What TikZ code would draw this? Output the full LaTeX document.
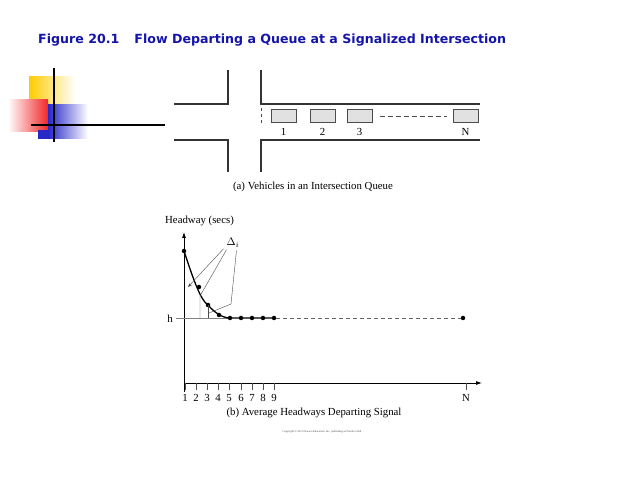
\documentclass[tikz,border=0pt]{standalone}
\usepackage{fontspec}
\setmainfont{Liberation Serif}
\newfontfamily\titlefont{DejaVu Sans}
\usetikzlibrary{arrows.meta}
\definecolor{ttl}{RGB}{20,20,170}
\definecolor{carfill}{RGB}{225,225,225}
\definecolor{lgold}{RGB}{255,204,0}
\definecolor{lblue}{RGB}{40,40,200}
\definecolor{lred}{RGB}{240,40,40}
\begin{document}
\begin{tikzpicture}[x=1pt,y=-1pt,
  road/.style={line width=1.1pt,black!80},
  car/.style={draw=black!70,fill=carfill,line width=0.5pt},
  lab/.style={font=\fontsize{10.8}{12}\selectfont,inner sep=0pt},
  dot/.style={circle,fill=black,inner sep=0pt,minimum size=4.5pt},
  thin/.style={line width=0.4pt,black!70}]
\fill[white] (0,0) rectangle (638,478);
\useasboundingbox (0,0) rectangle (638,478);
% title
\node[anchor=west,text=ttl,font=\titlefont\bfseries\fontsize{12.6}{14}\selectfont,inner sep=0pt] (title) at (38,40) {Figure 20.1\hspace{1.2em}Flow Departing a Queue at a Signalized Intersection};
% logo
\shade[left color=lgold,right color=white] (29,77) rectangle (75,113);
\shade[left color=white,right color=lred] (8,100) rectangle (48,132);
\shade[left color=lblue,right color=white] (48,105) rectangle (88,139);
\fill[lblue] (38,130) rectangle (50,139);
\draw[line width=1.3pt] (54,68) -- (54,142);
\draw[line width=1.3pt] (31,125) -- (165,125);
% road
\draw[road] (174,104) -- (228,104) -- (228,70);
\draw[road] (261,70) -- (261,104) -- (480,104);
\draw[road] (174,140) -- (228,140) -- (228,172);
\draw[road] (261,172) -- (261,140) -- (480,140);
\draw[thin,dashed] (261,108) -- (261,126);
\foreach \x/\l [count=\i] in {271/1,310/2,347/3,453/N}{
  \node[car,minimum width=25pt,minimum height=13pt,anchor=north west,inner sep=0pt] (car\i) at (\x,109) {};
  \node[lab] (cl\i) at (\x+12.5,132) {\l};}
\draw[thin,dashed,dash pattern=on 5pt off 3pt] (car3.east)++(7,0) coordinate (dq1) -- ++(67,0) coordinate (dq2);
\node[lab] (capa) at (313,187) {(a) Vehicles in an Intersection Queue};
% graph
\coordinate (O) at (184,383);
\draw[line width=0.8pt,-{Latex[length=6pt,width=4pt]}] (184,392) -- (184,232) coordinate (ytop);
\draw[line width=0.8pt,-{Latex[length=6pt,width=4pt]}] (O) -- (482,383) coordinate (xend);
\node[lab,anchor=west] (ylab) at (165,221) {Headway (secs)};
\foreach \x/\l in {185/1,196/2,207/3,218/4,229/5,241/6,252/7,263/8,274/9,466/N}{
  \draw[thin] (\x,383) -- (\x,390);
  \node[lab] at (\x,398) {\l};}
\node[lab] (capb) at (314,413) {(b) Average Headways Departing Signal};
\node[lab] (hl) at (170,319) {h};
\draw[black!50,line width=0.4pt] (176,318) -- (230,318);
\node[dot] (p1) at (184,251) {};
\node[dot] (p2) at (199,287) {};
\node[dot] (p3) at (208,305) {};
\node[dot] (p4) at (219,315) {};
\node[dot] (p5) at (230,318) {};
\node[dot] (p6) at (241,318) {};
\node[dot] (p7) at (252,318) {};
\node[dot] (p8) at (263,318) {};
\node[dot] (p9) at (274,318) {};
\node[dot] (pN) at (463,318) {};
\draw[line width=1.3pt] (p1.center) .. controls (192,275) and (200,300) .. (p3.center) .. controls (214,312) and (222,318) .. (p5.center) -- (p9.center);
\draw[black!60,dashed,dash pattern=on 4pt off 3pt,line width=0.6pt] (p9) -- (pN);
\node[lab] (delta) at (233,243) {$\Delta_i$};
\draw[thin,-{Stealth[length=4pt,width=3pt]}] (delta.south west) ++(-3,1) coordinate (d1) -- (188,287);
\draw[thin] (delta.south west) ++(0,2) coordinate (d2) -- (200,296) -- (200,318);
\draw[thin] (208,305) -- (208,318);
\draw[thin] (delta.south east) ++(-3,3) coordinate (d3) -- (231,304) -- (209,313);
\node[font=\fontsize{2.8}{3}\selectfont,inner sep=0pt,text=black!70] (copy) at (322,432) {Copyright \textcopyright{} 2011 Pearson Education, Inc. publishing as Prentice Hall};
\end{tikzpicture}
\end{document}
